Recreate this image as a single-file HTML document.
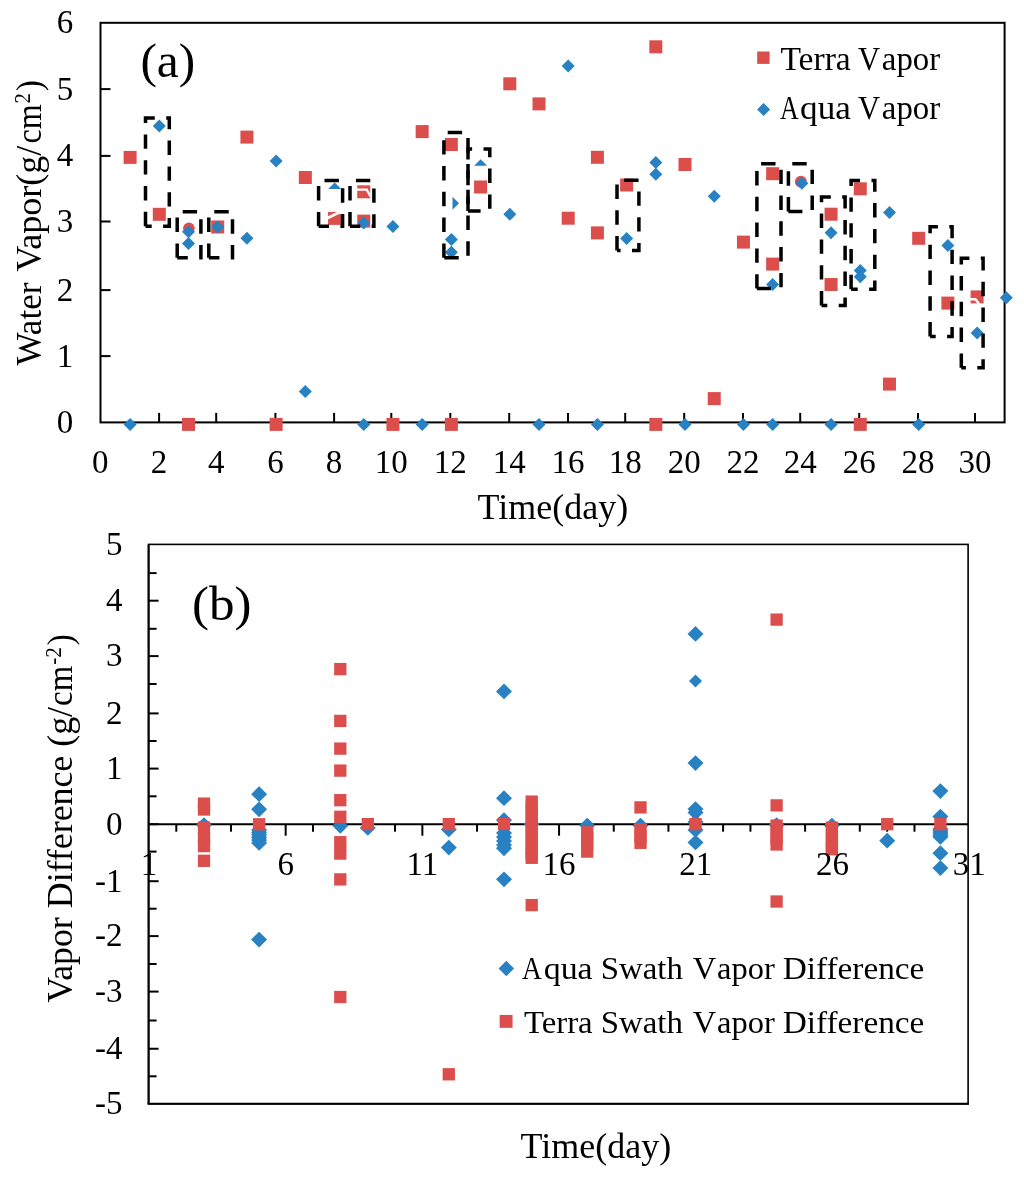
<!DOCTYPE html>
<html><head><meta charset="utf-8"><title>Water vapor figure</title>
<style>
html,body{margin:0;padding:0;background:#fff;}
svg{display:block;}
text{font-family:'Liberation Serif', 'Times New Roman', serif;fill:#000;}
</style></head><body>
<svg width="1024" height="1177" viewBox="0 0 1024 1177">
<rect width="1024" height="1177" fill="#fff"/>
<rect x="100.5" y="22.8" width="904.1" height="399.59999999999997" fill="none" stroke="#000" stroke-width="2"/>
<line x1="100.5" y1="356.10" x2="110.5" y2="356.10" stroke="#000" stroke-width="2"/>
<line x1="100.5" y1="290.10" x2="110.5" y2="290.10" stroke="#000" stroke-width="2"/>
<line x1="100.5" y1="221.50" x2="110.5" y2="221.50" stroke="#000" stroke-width="2"/>
<line x1="100.5" y1="155.90" x2="110.5" y2="155.90" stroke="#000" stroke-width="2"/>
<line x1="100.5" y1="89.10" x2="110.5" y2="89.10" stroke="#000" stroke-width="2"/>
<line x1="159.10" y1="422.4" x2="159.10" y2="412.9" stroke="#000" stroke-width="2"/>
<line x1="216.20" y1="422.4" x2="216.20" y2="412.9" stroke="#000" stroke-width="2"/>
<line x1="275.40" y1="422.4" x2="275.40" y2="412.9" stroke="#000" stroke-width="2"/>
<line x1="334.10" y1="422.4" x2="334.10" y2="412.9" stroke="#000" stroke-width="2"/>
<line x1="391.30" y1="422.4" x2="391.30" y2="412.9" stroke="#000" stroke-width="2"/>
<line x1="450.30" y1="422.4" x2="450.30" y2="412.9" stroke="#000" stroke-width="2"/>
<line x1="509.20" y1="422.4" x2="509.20" y2="412.9" stroke="#000" stroke-width="2"/>
<line x1="568.00" y1="422.4" x2="568.00" y2="412.9" stroke="#000" stroke-width="2"/>
<line x1="625.20" y1="422.4" x2="625.20" y2="412.9" stroke="#000" stroke-width="2"/>
<line x1="684.20" y1="422.4" x2="684.20" y2="412.9" stroke="#000" stroke-width="2"/>
<line x1="743.00" y1="422.4" x2="743.00" y2="412.9" stroke="#000" stroke-width="2"/>
<line x1="800.20" y1="422.4" x2="800.20" y2="412.9" stroke="#000" stroke-width="2"/>
<line x1="859.20" y1="422.4" x2="859.20" y2="412.9" stroke="#000" stroke-width="2"/>
<line x1="918.00" y1="422.4" x2="918.00" y2="412.9" stroke="#000" stroke-width="2"/>
<line x1="975.00" y1="422.4" x2="975.00" y2="412.9" stroke="#000" stroke-width="2"/>
<text x="73.3" y="433.00" text-anchor="end" font-size="33">0</text>
<text x="73.3" y="366.50" text-anchor="end" font-size="33">1</text>
<text x="73.3" y="300.50" text-anchor="end" font-size="33">2</text>
<text x="73.3" y="231.90" text-anchor="end" font-size="33">3</text>
<text x="73.3" y="166.30" text-anchor="end" font-size="33">4</text>
<text x="73.3" y="99.50" text-anchor="end" font-size="33">5</text>
<text x="73.3" y="33.20" text-anchor="end" font-size="33">6</text>
<text x="100.20" y="473" text-anchor="middle" font-size="33">0</text>
<text x="159.10" y="473" text-anchor="middle" font-size="33">2</text>
<text x="216.20" y="473" text-anchor="middle" font-size="33">4</text>
<text x="275.40" y="473" text-anchor="middle" font-size="33">6</text>
<text x="334.10" y="473" text-anchor="middle" font-size="33">8</text>
<text x="391.30" y="473" text-anchor="middle" font-size="33">10</text>
<text x="450.30" y="473" text-anchor="middle" font-size="33">12</text>
<text x="509.20" y="473" text-anchor="middle" font-size="33">14</text>
<text x="568.00" y="473" text-anchor="middle" font-size="33">16</text>
<text x="625.20" y="473" text-anchor="middle" font-size="33">18</text>
<text x="684.20" y="473" text-anchor="middle" font-size="33">20</text>
<text x="743.00" y="473" text-anchor="middle" font-size="33">22</text>
<text x="800.20" y="473" text-anchor="middle" font-size="33">24</text>
<text x="859.20" y="473" text-anchor="middle" font-size="33">26</text>
<text x="918.00" y="473" text-anchor="middle" font-size="33">28</text>
<text x="975.00" y="473" text-anchor="middle" font-size="33">30</text>
<rect x="123.60" y="150.90" width="13.00" height="13.00" fill="#DC4E4C"/>
<rect x="152.80" y="207.80" width="13.00" height="13.00" fill="#DC4E4C"/>
<circle cx="188.9" cy="228.3" r="5.8" fill="#DC4E4C"/>
<rect x="182.01" y="417.90" width="13.00" height="13.00" fill="#DC4E4C"/>
<rect x="211.22" y="220.50" width="13.00" height="13.00" fill="#DC4E4C"/>
<rect x="240.43" y="130.60" width="13.00" height="13.00" fill="#DC4E4C"/>
<rect x="269.63" y="417.90" width="13.00" height="13.00" fill="#DC4E4C"/>
<rect x="298.84" y="171.00" width="13.00" height="13.00" fill="#DC4E4C"/>
<rect x="328.05" y="211.90" width="13.00" height="13.00" fill="#DC4E4C"/>
<rect x="357.25" y="185.30" width="13.00" height="13.00" fill="#DC4E4C"/>
<rect x="357.25" y="214.60" width="13.00" height="13.00" fill="#DC4E4C"/>
<rect x="386.46" y="417.90" width="13.00" height="13.00" fill="#DC4E4C"/>
<rect x="415.67" y="125.10" width="13.00" height="13.00" fill="#DC4E4C"/>
<rect x="444.87" y="138.00" width="13.00" height="13.00" fill="#DC4E4C"/>
<rect x="444.87" y="417.90" width="13.00" height="13.00" fill="#DC4E4C"/>
<rect x="474.08" y="180.50" width="13.00" height="13.00" fill="#DC4E4C"/>
<rect x="503.29" y="77.30" width="13.00" height="13.00" fill="#DC4E4C"/>
<rect x="532.50" y="97.40" width="13.00" height="13.00" fill="#DC4E4C"/>
<rect x="561.70" y="211.70" width="13.00" height="13.00" fill="#DC4E4C"/>
<rect x="590.91" y="150.80" width="13.00" height="13.00" fill="#DC4E4C"/>
<rect x="590.91" y="226.40" width="13.00" height="13.00" fill="#DC4E4C"/>
<rect x="620.12" y="178.50" width="13.00" height="13.00" fill="#DC4E4C"/>
<rect x="649.32" y="40.30" width="13.00" height="13.00" fill="#DC4E4C"/>
<rect x="649.32" y="417.90" width="13.00" height="13.00" fill="#DC4E4C"/>
<rect x="678.53" y="158.00" width="13.00" height="13.00" fill="#DC4E4C"/>
<rect x="707.74" y="392.10" width="13.00" height="13.00" fill="#DC4E4C"/>
<rect x="736.94" y="235.60" width="13.00" height="13.00" fill="#DC4E4C"/>
<rect x="766.15" y="167.20" width="13.00" height="13.00" fill="#DC4E4C"/>
<rect x="766.15" y="257.60" width="13.00" height="13.00" fill="#DC4E4C"/>
<circle cx="800.9" cy="181.8" r="6.0" fill="#DC4E4C"/>
<rect x="824.57" y="207.70" width="13.00" height="13.00" fill="#DC4E4C"/>
<rect x="824.57" y="278.00" width="13.00" height="13.00" fill="#DC4E4C"/>
<rect x="853.77" y="182.30" width="13.00" height="13.00" fill="#DC4E4C"/>
<rect x="853.77" y="417.90" width="13.00" height="13.00" fill="#DC4E4C"/>
<rect x="882.98" y="377.60" width="13.00" height="13.00" fill="#DC4E4C"/>
<rect x="912.19" y="231.80" width="13.00" height="13.00" fill="#DC4E4C"/>
<rect x="941.39" y="296.60" width="13.00" height="13.00" fill="#DC4E4C"/>
<rect x="970.60" y="290.40" width="13.00" height="13.00" fill="#DC4E4C"/>
<path d="M356.5 189.7H366.8L370.5 196.5" stroke="#fff" fill="none" stroke-linecap="butt" stroke-width="2.2"/>
<path d="M341.5 211.2L327.2 218.2" stroke="#fff" fill="none" stroke-linecap="butt" stroke-width="2.8"/>
<path d="M335.5 210.8H342V215.5Z" fill="#fff"/>
<path d="M969.5 299.3H975.5L979.5 304.5" stroke="#fff" fill="none" stroke-linecap="butt" stroke-width="2.4"/>
<path d="M130.10 417.90L136.60 424.40L130.10 430.90L123.60 424.40Z" fill="#2781C3"/>
<path d="M159.30 119.50L165.80 126.00L159.30 132.50L152.80 126.00Z" fill="#2781C3"/>
<path d="M188.51 225.30L195.01 231.80L188.51 238.30L182.01 231.80Z" fill="#2781C3"/>
<path d="M188.51 237.10L195.01 243.60L188.51 250.10L182.01 243.60Z" fill="#2781C3"/>
<path d="M217.72 220.50L224.22 227.00L217.72 233.50L211.22 227.00Z" fill="#2781C3"/>
<path d="M246.93 231.80L253.43 238.30L246.93 244.80L240.43 238.30Z" fill="#2781C3"/>
<path d="M276.13 154.60L282.63 161.10L276.13 167.60L269.63 161.10Z" fill="#2781C3"/>
<path d="M305.34 384.90L311.84 391.40L305.34 397.90L298.84 391.40Z" fill="#2781C3"/>
<path d="M334.70 182.50L341.20 189.00L328.20 189.00Z" fill="#2781C3"/>
<path d="M363.75 216.50L370.25 223.00L363.75 229.50L357.25 223.00Z" fill="#2781C3"/>
<path d="M363.75 417.90L370.25 424.40L363.75 430.90L357.25 424.40Z" fill="#2781C3"/>
<path d="M392.96 220.10L399.46 226.60L392.96 233.10L386.46 226.60Z" fill="#2781C3"/>
<path d="M422.17 417.90L428.67 424.40L422.17 430.90L415.67 424.40Z" fill="#2781C3"/>
<path d="M452.50 196.80L459.00 203.30L452.50 209.80Z" fill="#2781C3"/>
<path d="M451.37 233.10L457.87 239.60L451.37 246.10L444.87 239.60Z" fill="#2781C3"/>
<path d="M451.37 245.80L457.87 252.30L451.37 258.80L444.87 252.30Z" fill="#2781C3"/>
<path d="M480.60 159.20L487.10 165.70L474.10 165.70Z" fill="#2781C3"/>
<path d="M509.79 207.80L516.29 214.30L509.79 220.80L503.29 214.30Z" fill="#2781C3"/>
<path d="M539.00 417.90L545.50 424.40L539.00 430.90L532.50 424.40Z" fill="#2781C3"/>
<path d="M568.20 59.40L574.70 65.90L568.20 72.40L561.70 65.90Z" fill="#2781C3"/>
<path d="M597.41 417.90L603.91 424.40L597.41 430.90L590.91 424.40Z" fill="#2781C3"/>
<path d="M626.62 232.00L633.12 238.50L626.62 245.00L620.12 238.50Z" fill="#2781C3"/>
<path d="M655.82 156.10L662.32 162.60L655.82 169.10L649.32 162.60Z" fill="#2781C3"/>
<path d="M655.82 167.80L662.32 174.30L655.82 180.80L649.32 174.30Z" fill="#2781C3"/>
<path d="M685.03 417.90L691.53 424.40L685.03 430.90L678.53 424.40Z" fill="#2781C3"/>
<path d="M714.24 189.70L720.74 196.20L714.24 202.70L707.74 196.20Z" fill="#2781C3"/>
<path d="M743.44 417.90L749.94 424.40L743.44 430.90L736.94 424.40Z" fill="#2781C3"/>
<path d="M772.65 278.00L779.15 284.50L772.65 291.00L766.15 284.50Z" fill="#2781C3"/>
<path d="M772.65 417.90L779.15 424.40L772.65 430.90L766.15 424.40Z" fill="#2781C3"/>
<path d="M801.86 176.80L808.36 183.30L801.86 189.80L795.36 183.30Z" fill="#2781C3"/>
<path d="M831.07 226.30L837.57 232.80L831.07 239.30L824.57 232.80Z" fill="#2781C3"/>
<path d="M831.07 417.90L837.57 424.40L831.07 430.90L824.57 424.40Z" fill="#2781C3"/>
<path d="M860.27 264.00L866.77 270.50L860.27 277.00L853.77 270.50Z" fill="#2781C3"/>
<path d="M860.27 270.20L866.77 276.70L860.27 283.20L853.77 276.70Z" fill="#2781C3"/>
<path d="M889.48 206.10L895.98 212.60L889.48 219.10L882.98 212.60Z" fill="#2781C3"/>
<path d="M918.69 417.90L925.19 424.40L918.69 430.90L912.19 424.40Z" fill="#2781C3"/>
<path d="M947.89 239.10L954.39 245.60L947.89 252.10L941.39 245.60Z" fill="#2781C3"/>
<path d="M977.10 326.40L983.60 332.90L977.10 339.40L970.60 332.90Z" fill="#2781C3"/>
<path d="M1006.31 291.20L1012.81 297.70L1006.31 304.20L999.81 297.70Z" fill="#2781C3"/>
<path d="M145.5 226.2V117.9H169.3V226.2H145.5" fill="none" stroke="#000" stroke-width="3.5" stroke-dasharray="14.4 11.4"/>
<path d="M177.2 257.8V211.7H200.9V257.8H177.2" fill="none" stroke="#000" stroke-width="3.5" stroke-dasharray="14.4 11.4"/>
<path d="M208.8 257.8V211.7H232.5V257.8H208.8" fill="none" stroke="#000" stroke-width="3.5" stroke-dasharray="14.4 11.4"/>
<path d="M318.6 226.3V180.6H342.6V226.3H318.6" fill="none" stroke="#000" stroke-width="3.5" stroke-dasharray="14.4 11.4"/>
<path d="M350.0 226.3V180.6H373.9V226.3H350.0" fill="none" stroke="#000" stroke-width="3.5" stroke-dasharray="14.4 11.4"/>
<path d="M443.9 257.8V132.6H468.0V257.8H443.9" fill="none" stroke="#000" stroke-width="3.5" stroke-dasharray="14.4 11.4"/>
<path d="M468.0 211.0V149.1H489.8V211.0H468.0" fill="none" stroke="#000" stroke-width="3.5" stroke-dasharray="14.4 11.4"/>
<path d="M617.0 250.5V180.3H638.9V250.5H617.0" fill="none" stroke="#000" stroke-width="3.5" stroke-dasharray="14.4 11.4"/>
<path d="M756.9 288.6V163.8H781.0V288.6H756.9" fill="none" stroke="#000" stroke-width="3.5" stroke-dasharray="14.4 11.4"/>
<path d="M788.4 211.5V163.8H812.2V211.5H788.4" fill="none" stroke="#000" stroke-width="3.5" stroke-dasharray="14.4 11.4"/>
<path d="M821.5 305.4V197.1H845.1V305.4H821.5" fill="none" stroke="#000" stroke-width="3.5" stroke-dasharray="14.4 11.4"/>
<path d="M851.1 289.2V180.6H874.8V289.2H851.1" fill="none" stroke="#000" stroke-width="3.5" stroke-dasharray="14.4 11.4"/>
<path d="M930.1 336.5V226.7H952.1V336.5H930.1" fill="none" stroke="#000" stroke-width="3.5" stroke-dasharray="14.4 11.4"/>
<path d="M961.3 367.8V258.3H983.1V367.8H961.3" fill="none" stroke="#000" stroke-width="3.5" stroke-dasharray="14.4 11.4"/>
<rect x="757.20" y="51.50" width="12.40" height="12.40" fill="#DC4E4C"/>
<text transform="translate(780.41 69.70) scale(1.0182 1)" font-size="33">Terra</text>
<text transform="translate(858.09 69.70) scale(0.9264 1)" font-size="33">V</text>
<text transform="translate(881.85 69.70) scale(0.9955 1)" font-size="33">apor</text>
<path d="M763.60 103.00L770.10 109.50L763.60 116.00L757.10 109.50Z" fill="#2781C3"/>
<text transform="translate(779.94 118.60) scale(0.7866 1)" font-size="33">A</text>
<text transform="translate(800.07 118.60) scale(1.0666 1)" font-size="33">qua</text>
<text transform="translate(858.09 118.60) scale(0.9264 1)" font-size="33">V</text>
<text transform="translate(881.85 118.60) scale(0.9955 1)" font-size="33">apor</text>
<text transform="translate(140.40 76.50) scale(1.0305 1)" font-size="48">(a)</text>
<text x="552.8" y="519" text-anchor="middle" font-size="36">Time(day)</text>
<g transform="rotate(-90)"><text transform="translate(-365.50 40.80) scale(0.9755 1)" font-size="36">Water</text><text transform="translate(-271.76 40.80) scale(1.0021 1)" font-size="36">Vapor(g/</text><text transform="translate(-143.61 40.80) scale(0.8927 1)" font-size="36">cm</text><text transform="translate(-103.48 29.80) scale(0.8592 1)" font-size="24">2</text><text transform="translate(-90.96 40.80) scale(0.9061 1)" font-size="36">)</text></g>
<rect x="148.6" y="544.4" width="819.5" height="559.4" fill="none" stroke="#000" stroke-width="1.6"/>
<line x1="148.6" y1="544.4" x2="148.6" y2="1103.8" stroke="#000" stroke-width="2"/>
<line x1="147.6" y1="1103.8" x2="968.9" y2="1103.8" stroke="#000" stroke-width="2"/>
<line x1="148.6" y1="1076.30" x2="156.6" y2="1076.30" stroke="#000" stroke-width="2"/>
<line x1="148.6" y1="1048.75" x2="158.6" y2="1048.75" stroke="#000" stroke-width="2"/>
<line x1="148.6" y1="1020.50" x2="156.6" y2="1020.50" stroke="#000" stroke-width="2"/>
<line x1="148.6" y1="991.60" x2="158.6" y2="991.60" stroke="#000" stroke-width="2"/>
<line x1="148.6" y1="964.00" x2="156.6" y2="964.00" stroke="#000" stroke-width="2"/>
<line x1="148.6" y1="936.10" x2="158.6" y2="936.10" stroke="#000" stroke-width="2"/>
<line x1="148.6" y1="908.70" x2="156.6" y2="908.70" stroke="#000" stroke-width="2"/>
<line x1="148.6" y1="881.20" x2="158.6" y2="881.20" stroke="#000" stroke-width="2"/>
<line x1="148.6" y1="851.60" x2="156.6" y2="851.60" stroke="#000" stroke-width="2"/>
<line x1="148.6" y1="824.20" x2="158.6" y2="824.20" stroke="#000" stroke-width="2"/>
<line x1="148.6" y1="796.30" x2="156.6" y2="796.30" stroke="#000" stroke-width="2"/>
<line x1="148.6" y1="768.60" x2="158.6" y2="768.60" stroke="#000" stroke-width="2"/>
<line x1="148.6" y1="741.00" x2="156.6" y2="741.00" stroke="#000" stroke-width="2"/>
<line x1="148.6" y1="713.40" x2="158.6" y2="713.40" stroke="#000" stroke-width="2"/>
<line x1="148.6" y1="684.00" x2="156.6" y2="684.00" stroke="#000" stroke-width="2"/>
<line x1="148.6" y1="656.10" x2="158.6" y2="656.10" stroke="#000" stroke-width="2"/>
<line x1="148.6" y1="628.80" x2="156.6" y2="628.80" stroke="#000" stroke-width="2"/>
<line x1="148.6" y1="600.70" x2="158.6" y2="600.70" stroke="#000" stroke-width="2"/>
<line x1="148.6" y1="573.10" x2="156.6" y2="573.10" stroke="#000" stroke-width="2"/>
<text x="122.5" y="1114.00" text-anchor="end" font-size="33">-5</text>
<text x="122.5" y="1059.05" text-anchor="end" font-size="33">-4</text>
<text x="122.5" y="1001.90" text-anchor="end" font-size="33">-3</text>
<text x="122.5" y="946.40" text-anchor="end" font-size="33">-2</text>
<text x="122.5" y="891.50" text-anchor="end" font-size="33">-1</text>
<text x="122.5" y="834.50" text-anchor="end" font-size="33">0</text>
<text x="122.5" y="778.90" text-anchor="end" font-size="33">1</text>
<text x="122.5" y="723.70" text-anchor="end" font-size="33">2</text>
<text x="122.5" y="666.40" text-anchor="end" font-size="33">3</text>
<text x="122.5" y="611.00" text-anchor="end" font-size="33">4</text>
<text x="122.5" y="554.70" text-anchor="end" font-size="33">5</text>
<line x1="148.6" y1="824.2" x2="968.1" y2="824.2" stroke="#000" stroke-width="2"/>
<line x1="176.30" y1="824.2" x2="176.30" y2="831.7" stroke="#000" stroke-width="2"/>
<line x1="203.64" y1="824.2" x2="203.64" y2="831.7" stroke="#000" stroke-width="2"/>
<line x1="230.98" y1="824.2" x2="230.98" y2="831.7" stroke="#000" stroke-width="2"/>
<line x1="258.32" y1="824.2" x2="258.32" y2="831.7" stroke="#000" stroke-width="2"/>
<line x1="285.66" y1="824.2" x2="285.66" y2="835.7" stroke="#000" stroke-width="2"/>
<line x1="313.00" y1="824.2" x2="313.00" y2="831.7" stroke="#000" stroke-width="2"/>
<line x1="340.34" y1="824.2" x2="340.34" y2="831.7" stroke="#000" stroke-width="2"/>
<line x1="367.68" y1="824.2" x2="367.68" y2="831.7" stroke="#000" stroke-width="2"/>
<line x1="395.02" y1="824.2" x2="395.02" y2="831.7" stroke="#000" stroke-width="2"/>
<line x1="422.36" y1="824.2" x2="422.36" y2="835.7" stroke="#000" stroke-width="2"/>
<line x1="449.70" y1="824.2" x2="449.70" y2="831.7" stroke="#000" stroke-width="2"/>
<line x1="477.04" y1="824.2" x2="477.04" y2="831.7" stroke="#000" stroke-width="2"/>
<line x1="504.38" y1="824.2" x2="504.38" y2="831.7" stroke="#000" stroke-width="2"/>
<line x1="531.72" y1="824.2" x2="531.72" y2="831.7" stroke="#000" stroke-width="2"/>
<line x1="559.06" y1="824.2" x2="559.06" y2="835.7" stroke="#000" stroke-width="2"/>
<line x1="586.40" y1="824.2" x2="586.40" y2="831.7" stroke="#000" stroke-width="2"/>
<line x1="613.74" y1="824.2" x2="613.74" y2="831.7" stroke="#000" stroke-width="2"/>
<line x1="641.08" y1="824.2" x2="641.08" y2="831.7" stroke="#000" stroke-width="2"/>
<line x1="668.42" y1="824.2" x2="668.42" y2="831.7" stroke="#000" stroke-width="2"/>
<line x1="695.76" y1="824.2" x2="695.76" y2="835.7" stroke="#000" stroke-width="2"/>
<line x1="723.10" y1="824.2" x2="723.10" y2="831.7" stroke="#000" stroke-width="2"/>
<line x1="750.44" y1="824.2" x2="750.44" y2="831.7" stroke="#000" stroke-width="2"/>
<line x1="777.78" y1="824.2" x2="777.78" y2="831.7" stroke="#000" stroke-width="2"/>
<line x1="805.12" y1="824.2" x2="805.12" y2="831.7" stroke="#000" stroke-width="2"/>
<line x1="832.46" y1="824.2" x2="832.46" y2="835.7" stroke="#000" stroke-width="2"/>
<line x1="859.80" y1="824.2" x2="859.80" y2="831.7" stroke="#000" stroke-width="2"/>
<line x1="887.14" y1="824.2" x2="887.14" y2="831.7" stroke="#000" stroke-width="2"/>
<line x1="914.48" y1="824.2" x2="914.48" y2="831.7" stroke="#000" stroke-width="2"/>
<line x1="941.82" y1="824.2" x2="941.82" y2="831.7" stroke="#000" stroke-width="2"/>
<path d="M204.00 817.15L212.00 825.00L204.00 832.85L196.00 825.00Z" fill="#2781C3"/>
<path d="M259.10 786.35L267.10 794.20L259.10 802.05L251.10 794.20Z" fill="#2781C3"/>
<path d="M259.10 801.45L267.10 809.30L259.10 817.15L251.10 809.30Z" fill="#2781C3"/>
<path d="M259.10 822.15L267.10 830.00L259.10 837.85L251.10 830.00Z" fill="#2781C3"/>
<path d="M259.10 824.65L267.10 832.50L259.10 840.35L251.10 832.50Z" fill="#2781C3"/>
<path d="M259.10 827.15L267.10 835.00L259.10 842.85L251.10 835.00Z" fill="#2781C3"/>
<path d="M259.10 829.65L267.10 837.50L259.10 845.35L251.10 837.50Z" fill="#2781C3"/>
<path d="M259.10 832.15L267.10 840.00L259.10 847.85L251.10 840.00Z" fill="#2781C3"/>
<path d="M259.10 835.05L267.10 842.90L259.10 850.75L251.10 842.90Z" fill="#2781C3"/>
<path d="M259.10 931.75L267.10 939.60L259.10 947.45L251.10 939.60Z" fill="#2781C3"/>
<path d="M340.30 817.95L348.30 825.80L340.30 833.65L332.30 825.80Z" fill="#2781C3"/>
<path d="M367.80 820.15L375.80 828.00L367.80 835.85L359.80 828.00Z" fill="#2781C3"/>
<path d="M448.80 821.65L456.80 829.50L448.80 837.35L440.80 829.50Z" fill="#2781C3"/>
<path d="M448.80 839.75L456.80 847.60L448.80 855.45L440.80 847.60Z" fill="#2781C3"/>
<path d="M504.00 683.55L512.00 691.40L504.00 699.25L496.00 691.40Z" fill="#2781C3"/>
<path d="M504.00 790.35L512.00 798.20L504.00 806.05L496.00 798.20Z" fill="#2781C3"/>
<path d="M504.00 812.25L512.00 820.10L504.00 827.95L496.00 820.10Z" fill="#2781C3"/>
<path d="M504.00 825.15L512.00 833.00L504.00 840.85L496.00 833.00Z" fill="#2781C3"/>
<path d="M504.00 829.15L512.00 837.00L504.00 844.85L496.00 837.00Z" fill="#2781C3"/>
<path d="M504.00 833.15L512.00 841.00L504.00 848.85L496.00 841.00Z" fill="#2781C3"/>
<path d="M504.00 837.15L512.00 845.00L504.00 852.85L496.00 845.00Z" fill="#2781C3"/>
<path d="M504.00 840.45L512.00 848.30L504.00 856.15L496.00 848.30Z" fill="#2781C3"/>
<path d="M504.00 871.45L512.00 879.30L504.00 887.15L496.00 879.30Z" fill="#2781C3"/>
<path d="M531.70 816.15L539.70 824.00L531.70 831.85L523.70 824.00Z" fill="#2781C3"/>
<path d="M587.20 817.65L595.20 825.50L587.20 833.35L579.20 825.50Z" fill="#2781C3"/>
<path d="M640.50 817.65L648.50 825.50L640.50 833.35L632.50 825.50Z" fill="#2781C3"/>
<path d="M695.50 626.05L703.50 633.90L695.50 641.75L687.50 633.90Z" fill="#2781C3"/>
<path d="M695.50 755.25L703.50 763.10L695.50 770.95L687.50 763.10Z" fill="#2781C3"/>
<path d="M695.50 801.15L703.50 809.00L695.50 816.85L687.50 809.00Z" fill="#2781C3"/>
<path d="M695.50 804.65L703.50 812.50L695.50 820.35L687.50 812.50Z" fill="#2781C3"/>
<path d="M695.50 814.15L703.50 822.00L695.50 829.85L687.50 822.00Z" fill="#2781C3"/>
<path d="M695.50 822.15L703.50 830.00L695.50 837.85L687.50 830.00Z" fill="#2781C3"/>
<path d="M695.50 834.65L703.50 842.50L695.50 850.35L687.50 842.50Z" fill="#2781C3"/>
<path d="M776.60 817.15L784.60 825.00L776.60 832.85L768.60 825.00Z" fill="#2781C3"/>
<path d="M831.90 817.75L839.90 825.60L831.90 833.45L823.90 825.60Z" fill="#2781C3"/>
<path d="M887.20 832.85L895.20 840.70L887.20 848.55L879.20 840.70Z" fill="#2781C3"/>
<path d="M940.40 783.25L948.40 791.10L940.40 798.95L932.40 791.10Z" fill="#2781C3"/>
<path d="M940.40 808.65L948.40 816.50L940.40 824.35L932.40 816.50Z" fill="#2781C3"/>
<path d="M940.40 821.15L948.40 829.00L940.40 836.85L932.40 829.00Z" fill="#2781C3"/>
<path d="M940.40 823.15L948.40 831.00L940.40 838.85L932.40 831.00Z" fill="#2781C3"/>
<path d="M940.40 825.15L948.40 833.00L940.40 840.85L932.40 833.00Z" fill="#2781C3"/>
<path d="M940.40 827.15L948.40 835.00L940.40 842.85L932.40 835.00Z" fill="#2781C3"/>
<path d="M940.40 829.15L948.40 837.00L940.40 844.85L932.40 837.00Z" fill="#2781C3"/>
<path d="M940.40 845.35L948.40 853.20L940.40 861.05L932.40 853.20Z" fill="#2781C3"/>
<path d="M940.40 860.25L948.40 868.10L940.40 875.95L932.40 868.10Z" fill="#2781C3"/>
<path d="M695.50 674.50L702.00 681.00L695.50 687.50L689.00 681.00Z" fill="#2781C3"/>
<rect x="197.85" y="797.45" width="12.30" height="12.30" fill="#DC4E4C"/>
<rect x="197.85" y="803.35" width="12.30" height="12.30" fill="#DC4E4C"/>
<rect x="197.85" y="821.35" width="12.30" height="12.30" fill="#DC4E4C"/>
<rect x="197.85" y="831.65" width="12.30" height="12.30" fill="#DC4E4C"/>
<rect x="197.85" y="839.95" width="12.30" height="12.30" fill="#DC4E4C"/>
<rect x="197.85" y="854.65" width="12.30" height="12.30" fill="#DC4E4C"/>
<rect x="252.95" y="818.15" width="12.30" height="12.30" fill="#DC4E4C"/>
<rect x="334.15" y="662.95" width="12.30" height="12.30" fill="#DC4E4C"/>
<rect x="334.15" y="714.75" width="12.30" height="12.30" fill="#DC4E4C"/>
<rect x="334.15" y="742.45" width="12.30" height="12.30" fill="#DC4E4C"/>
<rect x="334.15" y="764.45" width="12.30" height="12.30" fill="#DC4E4C"/>
<rect x="334.15" y="794.05" width="12.30" height="12.30" fill="#DC4E4C"/>
<rect x="334.15" y="810.65" width="12.30" height="12.30" fill="#DC4E4C"/>
<rect x="334.15" y="836.05" width="12.30" height="12.30" fill="#DC4E4C"/>
<rect x="334.15" y="847.45" width="12.30" height="12.30" fill="#DC4E4C"/>
<rect x="334.15" y="873.25" width="12.30" height="12.30" fill="#DC4E4C"/>
<rect x="334.15" y="990.85" width="12.30" height="12.30" fill="#DC4E4C"/>
<rect x="361.65" y="817.95" width="12.30" height="12.30" fill="#DC4E4C"/>
<rect x="442.65" y="817.95" width="12.30" height="12.30" fill="#DC4E4C"/>
<rect x="442.65" y="1068.15" width="12.30" height="12.30" fill="#DC4E4C"/>
<rect x="497.85" y="817.85" width="12.30" height="12.30" fill="#DC4E4C"/>
<rect x="525.55" y="795.45" width="12.30" height="12.30" fill="#DC4E4C"/>
<rect x="525.55" y="800.85" width="12.30" height="12.30" fill="#DC4E4C"/>
<rect x="525.55" y="806.85" width="12.30" height="12.30" fill="#DC4E4C"/>
<rect x="525.55" y="812.85" width="12.30" height="12.30" fill="#DC4E4C"/>
<rect x="525.55" y="818.85" width="12.30" height="12.30" fill="#DC4E4C"/>
<rect x="525.55" y="824.85" width="12.30" height="12.30" fill="#DC4E4C"/>
<rect x="525.55" y="830.85" width="12.30" height="12.30" fill="#DC4E4C"/>
<rect x="525.55" y="836.85" width="12.30" height="12.30" fill="#DC4E4C"/>
<rect x="525.55" y="842.85" width="12.30" height="12.30" fill="#DC4E4C"/>
<rect x="525.55" y="847.85" width="12.30" height="12.30" fill="#DC4E4C"/>
<rect x="525.55" y="851.65" width="12.30" height="12.30" fill="#DC4E4C"/>
<rect x="525.55" y="898.95" width="12.30" height="12.30" fill="#DC4E4C"/>
<rect x="581.05" y="826.15" width="12.30" height="12.30" fill="#DC4E4C"/>
<rect x="581.05" y="831.85" width="12.30" height="12.30" fill="#DC4E4C"/>
<rect x="581.05" y="837.85" width="12.30" height="12.30" fill="#DC4E4C"/>
<rect x="581.05" y="845.45" width="12.30" height="12.30" fill="#DC4E4C"/>
<rect x="634.35" y="801.25" width="12.30" height="12.30" fill="#DC4E4C"/>
<rect x="634.35" y="823.35" width="12.30" height="12.30" fill="#DC4E4C"/>
<rect x="634.35" y="829.85" width="12.30" height="12.30" fill="#DC4E4C"/>
<rect x="634.35" y="836.65" width="12.30" height="12.30" fill="#DC4E4C"/>
<rect x="689.35" y="818.05" width="12.30" height="12.30" fill="#DC4E4C"/>
<rect x="770.45" y="613.45" width="12.30" height="12.30" fill="#DC4E4C"/>
<rect x="770.45" y="799.25" width="12.30" height="12.30" fill="#DC4E4C"/>
<rect x="770.45" y="819.45" width="12.30" height="12.30" fill="#DC4E4C"/>
<rect x="770.45" y="825.85" width="12.30" height="12.30" fill="#DC4E4C"/>
<rect x="770.45" y="832.35" width="12.30" height="12.30" fill="#DC4E4C"/>
<rect x="770.45" y="838.35" width="12.30" height="12.30" fill="#DC4E4C"/>
<rect x="770.45" y="895.35" width="12.30" height="12.30" fill="#DC4E4C"/>
<rect x="825.75" y="821.45" width="12.30" height="12.30" fill="#DC4E4C"/>
<rect x="825.75" y="827.85" width="12.30" height="12.30" fill="#DC4E4C"/>
<rect x="825.75" y="833.85" width="12.30" height="12.30" fill="#DC4E4C"/>
<rect x="825.75" y="839.85" width="12.30" height="12.30" fill="#DC4E4C"/>
<rect x="825.75" y="843.05" width="12.30" height="12.30" fill="#DC4E4C"/>
<rect x="881.05" y="818.05" width="12.30" height="12.30" fill="#DC4E4C"/>
<rect x="934.25" y="818.05" width="12.30" height="12.30" fill="#DC4E4C"/>
<text x="148.96" y="874.5" text-anchor="middle" font-size="33">1</text>
<text x="285.66" y="874.5" text-anchor="middle" font-size="33">6</text>
<text x="422.36" y="874.5" text-anchor="middle" font-size="33">11</text>
<text x="559.06" y="874.5" text-anchor="middle" font-size="33">16</text>
<text x="695.76" y="874.5" text-anchor="middle" font-size="33">21</text>
<text x="832.46" y="874.5" text-anchor="middle" font-size="33">26</text>
<text x="969.16" y="874.5" text-anchor="middle" font-size="33">31</text>
<text transform="translate(192.03 620.30) scale(1.0629 1)" font-size="48">(b)</text>
<path d="M506.30 960.75L514.05 968.50L506.30 976.25L498.55 968.50Z" fill="#2781C3"/>
<text transform="translate(522.02 979.00) scale(0.8599 1)" font-size="32">A</text>
<text transform="translate(543.71 979.00) scale(1.0596 1)" font-size="32">qua</text>
<text transform="translate(600.68 979.00) scale(1.0279 1)" font-size="32">Swath</text>
<text transform="translate(692.78 979.00) scale(1.0134 1)" font-size="32">V</text>
<text transform="translate(716.96 979.00) scale(1.0159 1)" font-size="32">apor</text>
<text transform="translate(782.78 979.00) scale(1.0399 1)" font-size="32">Difference</text>
<rect x="499.65" y="1014.95" width="12.90" height="12.90" fill="#DC4E4C"/>
<text transform="translate(523.93 1032.70) scale(1.0258 1)" font-size="32">Terra</text>
<text transform="translate(600.68 1032.70) scale(1.0279 1)" font-size="32">Swath</text>
<text transform="translate(692.78 1032.70) scale(1.0134 1)" font-size="32">V</text>
<text transform="translate(716.96 1032.70) scale(1.0159 1)" font-size="32">apor</text>
<text transform="translate(782.78 1032.70) scale(1.0399 1)" font-size="32">Difference</text>
<text x="595.8" y="1158.2" text-anchor="middle" font-size="36">Time(day)</text>
<g transform="rotate(-90)"><text transform="translate(-1002.76 71.90) scale(0.9956 1)" font-size="36">Vapor Difference (g/</text><text transform="translate(-705.93 71.90) scale(0.9141 1)" font-size="36">cm</text><text transform="translate(-664.69 61.10) scale(0.8784 1)" font-size="24">-2</text><text transform="translate(-645.17 71.90) scale(0.9169 1)" font-size="36">)</text></g>
</svg>
</body></html>
